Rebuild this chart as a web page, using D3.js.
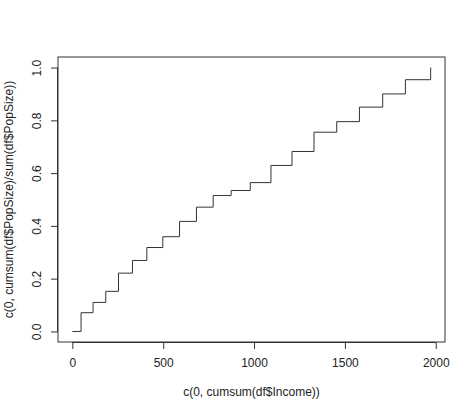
<!DOCTYPE html>
<html>
<head>
<meta charset="utf-8">
<script src="https://cdn.jsdelivr.net/npm/d3@7"></script>
<style>
body { margin: 0; background: #fff; }
text { font-family: "Liberation Sans", Arial, sans-serif; fill: #222; }
</style>
</head>
<body>
<div id="chart"></div>
<script>
// cumulative income (x) and cumulative population share (y)
var cumIncome = [0, 48, 114, 184, 254, 331, 410, 498, 590, 683, 775, 874, 979, 1093, 1209, 1330, 1455, 1580, 1708, 1833, 1972];
var cumPop = [0, 0.071, 0.110, 0.152, 0.221, 0.269, 0.318, 0.359, 0.417, 0.471, 0.515, 0.534, 0.564, 0.629, 0.682, 0.755, 0.795, 0.850, 0.900, 0.954, 1.0];
var xTicks = [0, 500, 1000, 1500, 2000];
var yTicks = [0, 0.2, 0.4, 0.6, 0.8, 1.0];

var svgWidth = 474;
var svgHeight = 414;

// plot box in pixels (R style, 4% padding on the data range)
var box = { left: 58, right: 445, top: 57, bottom: 342 };

var svg = d3.select("#chart")
	.append("svg")
	.attr("width", svgWidth)
	.attr("height", svgHeight);

var xMax = d3.max(cumIncome);
var xPad = xMax * 0.04;
var xScale = d3.scaleLinear()
	.domain([-xPad, xMax + xPad])
	.range([box.left, box.right]);

var yScale = d3.scaleLinear()
	.domain([-0.04, 1.04])
	.range([box.bottom, box.top]);

// box
svg.append("rect")
	.attr("x", box.left)
	.attr("y", box.top)
	.attr("width", box.right - box.left)
	.attr("height", box.bottom - box.top)
	.attr("fill", "none")
	.attr("stroke", "#333")
	.attr("stroke-width", 1);

// x axis
var bottomAxis = d3.axisBottom(xScale)
	.tickValues(xTicks)
	.tickSize(7)
	.tickPadding(9)
	.tickFormat(d3.format("d"));

var xAxis = svg.append("g")
	.attr("transform", `translate(0, ${box.bottom})`)
	.call(bottomAxis);

// y axis (labels rotated like R's default las=0)
var leftAxis = d3.axisLeft(yScale)
	.tickValues(yTicks)
	.tickSize(7)
	.tickFormat(d3.format(".1f"));

var yAxis = svg.append("g")
	.attr("transform", `translate(${box.left}, 0)`)
	.call(leftAxis);

yAxis.selectAll(".tick text")
	.attr("x", 0)
	.attr("dy", 0)
	.attr("text-anchor", "middle")
	.attr("transform", "translate(-17, 0) rotate(-90)");

[xAxis, yAxis].forEach(function(ax) {
	ax.select(".domain")
		.attr("stroke", "#333")
		.attr("d", function() {
			return ax === xAxis
				? `M${xScale(0)},0.5H${xScale(2000)}`
				: `M-0.5,${yScale(0)}V${yScale(1)}`;
		});
	ax.selectAll(".tick line").attr("stroke", "#333");
	ax.selectAll(".tick text")
		.attr("font-size", 12)
		.attr("font-family", "'Liberation Sans', Arial, sans-serif")
		.attr("fill", "#222");
});

// step line, type = "s"
var line = d3.line()
	.x(function(d, i) { return xScale(cumIncome[i]); })
	.y(function(d) { return yScale(d); })
	.curve(d3.curveStepAfter);

svg.append("path")
	.datum(cumPop)
	.attr("d", line)
	.attr("fill", "none")
	.attr("stroke", "#333")
	.attr("stroke-width", 1);

// axis titles
svg.append("text")
	.attr("x", (box.left + box.right) / 2)
	.attr("y", 396)
	.attr("text-anchor", "middle")
	.attr("font-size", 12)
	.text("c(0, cumsum(df$Income))");

svg.append("text")
	.attr("transform", `translate(13, ${(box.top + box.bottom) / 2}) rotate(-90)`)
	.attr("text-anchor", "middle")
	.attr("font-size", 12)
	.text("c(0, cumsum(df$PopSize)/sum(df$PopSize))");
</script>
</body>
</html>
